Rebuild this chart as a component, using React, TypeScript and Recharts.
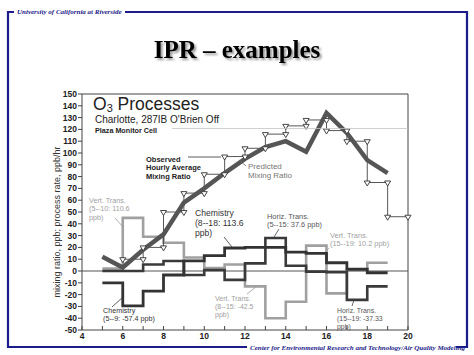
import React from "react";
import { ComposedChart, Line, XAxis, YAxis, ReferenceLine } from "recharts";

// hour at the start of each one-hour step (process rates, ppb/hr)
const HOURS = [5, 6, 7, 8, 9, 10, 11, 12, 13, 14, 15, 16, 17, 18];
const CHEMISTRY = [-10, -29.5, -17, -3.4, 8.5, 13, 19.5, 20, 20, 16, 15, 7, 1.5, -1.5];
const HORIZ_TRANS = [0, 0, 5.5, 8.5, -3.4, 0.8, -7.5, 6.5, 28, 4.5, -0.5, -1, -24.5, -13];
const VERT_TRANS = [2, 45, 29, 24, 11.5, 2.5, 5.5, -13, -40, -26, 21.5, -19, 0.5, 7];

// observed hourly average mixing ratio, ppb (one step per hour)
const OBS_HOURS = [6, 7, 8, 9, 10, 11, 12, 13, 14, 15, 16, 17, 18, 19];
const OBSERVED = [10, 20, 50, 66, 82, 97, 104, 116, 123, 128, 119, 110, 75, 46];

// predicted mixing ratio, ppb
const PRED_HOURS = [5, 6, 7, 8, 9, 10, 11, 12, 13, 14, 15, 16, 17, 18, 19];
const PREDICTED = [12, 3, 18, 31, 58, 70, 83, 95, 105, 110, 101, 134, 117, 94, 83];

const X_TICKS = [4, 5, 6, 7, 8, 9, 10, 11, 12, 13, 14, 15, 16, 17, 18, 19, 20];
const Y_TICKS = [-50, -40, -30, -20, -10, 0, 10, 20, 30, 40, 50, 60, 70, 80, 90, 100, 110, 120, 130, 140, 150];

const SANS = "'Liberation Sans', Arial, sans-serif";
const SERIF = "'Liberation Serif', 'Times New Roman', serif";
const NAVY = "#1c1c8a";

const steps = (hours: number[], values: number[]) => {
  const pts = hours.map((h, i) => ({ h, v: values[i] }));
  pts.push({ h: hours[hours.length - 1] + 1, v: values[values.length - 1] });
  return pts;
};

// each observed hour drawn as a flat segment with a marker at both ends
const obsSegments = OBS_HOURS.flatMap((h, i) => [
  { h, v: OBSERVED[i] },
  { h: h + 1, v: OBSERVED[i] },
]);

const predData = PRED_HOURS.map((h, i) => ({ h, v: PREDICTED[i] }));

function Tri(props: any) {
  const { cx, cy, index } = props;
  if (cx == null || cy == null) return null;
  return (
    <path
      key={`tri-${index}`}
      d={`M${cx - 3},${cy - 1.5} L${cx + 3},${cy - 1.5} L${cx},${cy + 3.5} Z`}
      fill="#fff"
      stroke="#333"
      strokeWidth={0.9}
    />
  );
}

function HourTick(props: any) {
  const { x, y, payload } = props;
  const even = payload.value % 2 === 0;
  return (
    <g>
      <line x1={x} x2={x} y1={y} y2={y - 4} stroke="#444" />
      {even && (
        <text x={x} y={y + 9} textAnchor="middle" fontSize={8.5} fontWeight={700} fill="#222" fontFamily={SANS}>
          {payload.value}
        </text>
      )}
    </g>
  );
}

function Note({ x, y, lines, color, size = 8, weight = 400, gap = 9 }: any) {
  return (
    <text x={x} y={y} fill={color} fontSize={size} fontWeight={weight} fontFamily={SANS}>
      {lines.map((l: string, i: number) => (
        <tspan key={i} x={x} dy={i === 0 ? 0 : gap}>
          {l}
        </tspan>
      ))}
    </text>
  );
}

export default function App() {
  return (
    <div style={{ position: "absolute", left: 0, top: 0, width: 474, height: 355, background: "#fff", overflow: "hidden" }}>
      <ComposedChart width={474} height={355} margin={{ top: 94, right: 66, bottom: 5, left: 52 }}>
        <XAxis
          type="number"
          dataKey="h"
          domain={[4, 20]}
          ticks={X_TICKS}
          interval={0}
          stroke="#444"
          tickSize={0}
          tickMargin={0}
          height={20}
          tick={<HourTick />}
        />
        <YAxis
          type="number"
          dataKey="v"
          domain={[-50, 150]}
          ticks={Y_TICKS}
          interval={0}
          width={30}
          stroke="#444"
          tickSize={4}
          tickMargin={1}
          tick={{ fontSize: 8.5, fontWeight: 700, fill: "#222", fontFamily: SANS }}
        />
        <ReferenceLine y={150} stroke="#444" />
        <ReferenceLine x={20} stroke="#444" />
        <ReferenceLine y={0} stroke="#555" strokeWidth={1} />

        <Line data={steps(HOURS, VERT_TRANS)} dataKey="v" type="stepAfter" stroke="#a0a0a0" strokeWidth={2.6} dot={false} isAnimationActive={false} />
        <Line data={steps(HOURS, HORIZ_TRANS)} dataKey="v" type="stepAfter" stroke="#3a3a3a" strokeWidth={2.6} dot={false} isAnimationActive={false} />
        <Line data={steps(HOURS, CHEMISTRY)} dataKey="v" type="stepAfter" stroke="#333" strokeWidth={2.8} dot={false} isAnimationActive={false} />
        <Line data={obsSegments} dataKey="v" type="linear" stroke="#444" strokeWidth={0.9} dot={<Tri />} isAnimationActive={false} />
        <Line data={predData} dataKey="v" type="linear" stroke="#555" strokeWidth={4.5} dot={false} isAnimationActive={false} />
      </ComposedChart>

      <svg width={474} height={355} style={{ position: "absolute", left: 0, top: 0, pointerEvents: "none" }}>
        <defs>
          <filter id="shadow" x="-10%" y="-20%" width="120%" height="150%">
            <feDropShadow dx={2} dy={2} stdDeviation={1} floodColor="#000" floodOpacity={0.4} />
          </filter>
        </defs>

        {/* slide frame */}
        <g stroke={NAVY} strokeWidth={2.2} fill="none">
          <polyline points="14,12 8,12 8,347 247,347" />
          <polyline points="125,12 467,12 467,347 456,347" />
        </g>
        <text x={17} y={13.5} fill={NAVY} fontSize={7} fontStyle="italic" fontWeight={700} fontFamily={SERIF}>
          University of California at Riverside
        </text>
        <text x={250} y={349.5} fill={NAVY} fontSize={7} fontStyle="italic" fontWeight={700} fontFamily={SERIF}>
          Center for Environmental Research and Technology/Air Quality Modeling
        </text>
        <text x={237} y={58} textAnchor="middle" fontSize={25} fontWeight={700} fontFamily={SERIF} fill="#000" filter="url(#shadow)">
          IPR – examples
        </text>

        {/* axis title */}
        <text transform="translate(60,222) rotate(-90)" textAnchor="middle" fontSize={9} fill="#333" fontFamily={SANS}>
          mixing ratio, ppb; process rate, ppb/hr
        </text>

        {/* plot headings */}
        <text x={93} y={109.5} fontSize={17.5} fill="#222" fontFamily={SANS}>
          O<tspan fontSize={11} dy={2.5}>3</tspan>
          <tspan dy={-2.5}> Processes</tspan>
        </text>
        <text x={95} y={123} fontSize={10} fill="#222" fontFamily={SANS}>
          Charlotte, 287IB O'Brien Off
        </text>
        <text x={95} y={132.5} fontSize={7.2} fontWeight={700} fill="#222" fontFamily={SANS}>
          Plaza Monitor Cell
        </text>
        <line x1={172} x2={408} y1={128.5} y2={128.5} stroke="#c4c4c4" strokeWidth={0.8} />

        {/* series notes */}
        <Note x={146} y={161.5} lines={["Observed", "Hourly Average", "Mixing Ratio"]} color="#222" size={7.5} weight={700} gap={8.7} />
        <Note x={248} y={169} lines={["Predicted", "Mixing Ratio"]} color="#777" size={8} gap={9.2} />
        <Note x={89} y={203} lines={["Vert. Trans.", "(5--10: 110.6", "ppb)"]} color="#a0a0a0" size={7.2} gap={8.4} />
        <Note x={195} y={216} lines={["Chemistry", "(8--18: 113.6", "ppb)"]} color="#333" size={8.6} gap={9.9} />
        <Note x={267} y={218.5} lines={["Horiz. Trans.", "(5--15: 37.6 ppb)"]} color="#555" size={7.4} gap={8.6} />
        <Note x={330} y={237.5} lines={["Vert. Trans.", "(15--19: 10.2 ppb)"]} color="#a0a0a0" size={7.4} gap={8.6} />
        <Note x={215} y={301} lines={["Vert. Trans.", "(8--15: -42.5", "ppb)"]} color="#a0a0a0" size={7} gap={8.1} />
        <Note x={103} y={313} lines={["Chemistry", "(5--9: -57.4 ppb)"]} color="#333" size={7.2} gap={8.3} />
        <Note x={337} y={312.5} lines={["Horiz. Trans.", "(15--19: -37.33", "ppb)"]} color="#555" size={6.9} gap={8} />

        {/* leaders */}
        <g strokeWidth={0.8} fill="none">
          <line x1={188} y1={157} x2={221} y2={157} stroke="#333" />
          <line x1={246} y1={166} x2={239} y2={160} stroke="#666" />
          <line x1={115} y1={218} x2={123} y2={227} stroke="#999" />
          <line x1={224} y1={237} x2={232} y2={247} stroke="#333" />
          <line x1={279} y1={229} x2={274} y2={237} stroke="#444" />
          <line x1={329} y1={248} x2={325} y2={252} stroke="#999" />
          <line x1={247} y1={294} x2={256} y2={287} stroke="#999" />
          <line x1={112} y1={307} x2={123} y2={297} stroke="#333" />
          <line x1={352} y1={306} x2={354} y2={300} stroke="#444" />
        </g>
      </svg>
    </div>
  );
}
